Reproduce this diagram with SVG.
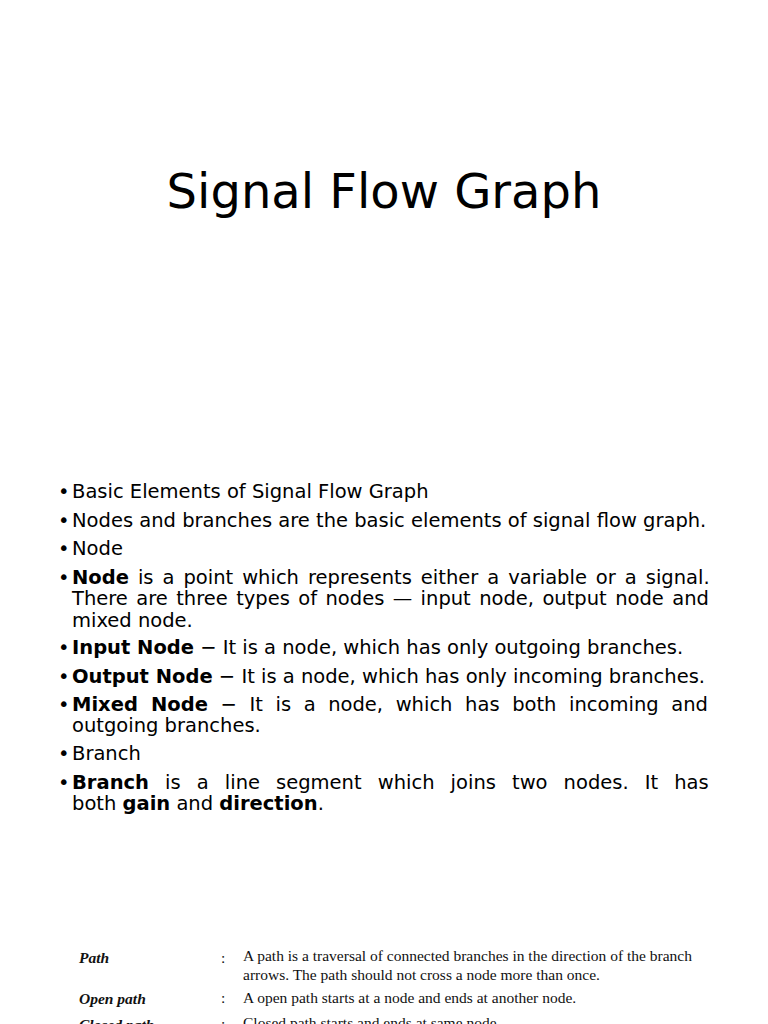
<svg xmlns="http://www.w3.org/2000/svg" width="768" height="1024" viewBox="0 0 768 1024">
<style>
.t{font-family:"DejaVu Sans",sans-serif;font-size:19.5px;fill:#000}
.b{font-weight:bold}
.s{font-family:"Liberation Serif",serif;font-size:15.5px;fill:#111}
.i{font-style:italic;font-weight:bold}
</style>
<rect width="768" height="1024" fill="#fff"/>
<text x="384" y="208" text-anchor="middle" font-family="DejaVu Sans,sans-serif" font-size="48" fill="#000">Signal Flow Graph</text>
<g class="t">
<text x="58" y="498">•</text><text x="72" y="498">Basic Elements of Signal Flow Graph</text>
<text x="58" y="527">•</text><text x="72" y="527">Nodes and branches are the basic elements of signal flow graph.</text>
<text x="58" y="555">•</text><text x="72" y="555">Node</text>
<text x="58" y="584">•</text><text x="72" y="584" word-spacing="2.8"><tspan class="b">Node</tspan> is a point which represents either a variable or a signal.</text>
<text x="72" y="605" word-spacing="2.2">There are three types of nodes — input node, output node and</text>
<text x="72" y="627">mixed node.</text>
<text x="58" y="654">•</text><text x="72" y="654"><tspan class="b">Input Node</tspan> − It is a node, which has only outgoing branches.</text>
<text x="58" y="683">•</text><text x="72" y="683"><tspan class="b">Output Node</tspan> − It is a node, which has only incoming branches.</text>
<text x="58" y="711">•</text><text x="72" y="711" word-spacing="6.4"><tspan class="b">Mixed Node</tspan> − It is a node, which has both incoming and</text>
<text x="72" y="732">outgoing branches.</text>
<text x="58" y="760">•</text><text x="72" y="760">Branch</text>
<text x="58" y="789">•</text><text x="72" y="789" word-spacing="9.9"><tspan class="b">Branch</tspan> is a line segment which joins two nodes. It has</text>
<text x="72" y="810">both <tspan class="b">gain</tspan> and <tspan class="b">direction</tspan>.</text>
</g>
<g class="s">
<text x="79" y="963" class="i">Path</text>
<text x="221" y="963">:</text>
<text x="243" y="961">A path is a traversal of connected branches in the direction of the branch</text>
<text x="243" y="980">arrows. The path should not cross a node more than once.</text>
<text x="79" y="1004" class="i">Open path</text>
<text x="221" y="1003">:</text>
<text x="243" y="1003">A open path starts at a node and ends at another node.</text>
<text x="79" y="1030" class="i">Closed path</text>
<text x="221" y="1029">:</text>
<text x="243" y="1028">Closed path starts and ends at same node.</text>
</g>
</svg>
